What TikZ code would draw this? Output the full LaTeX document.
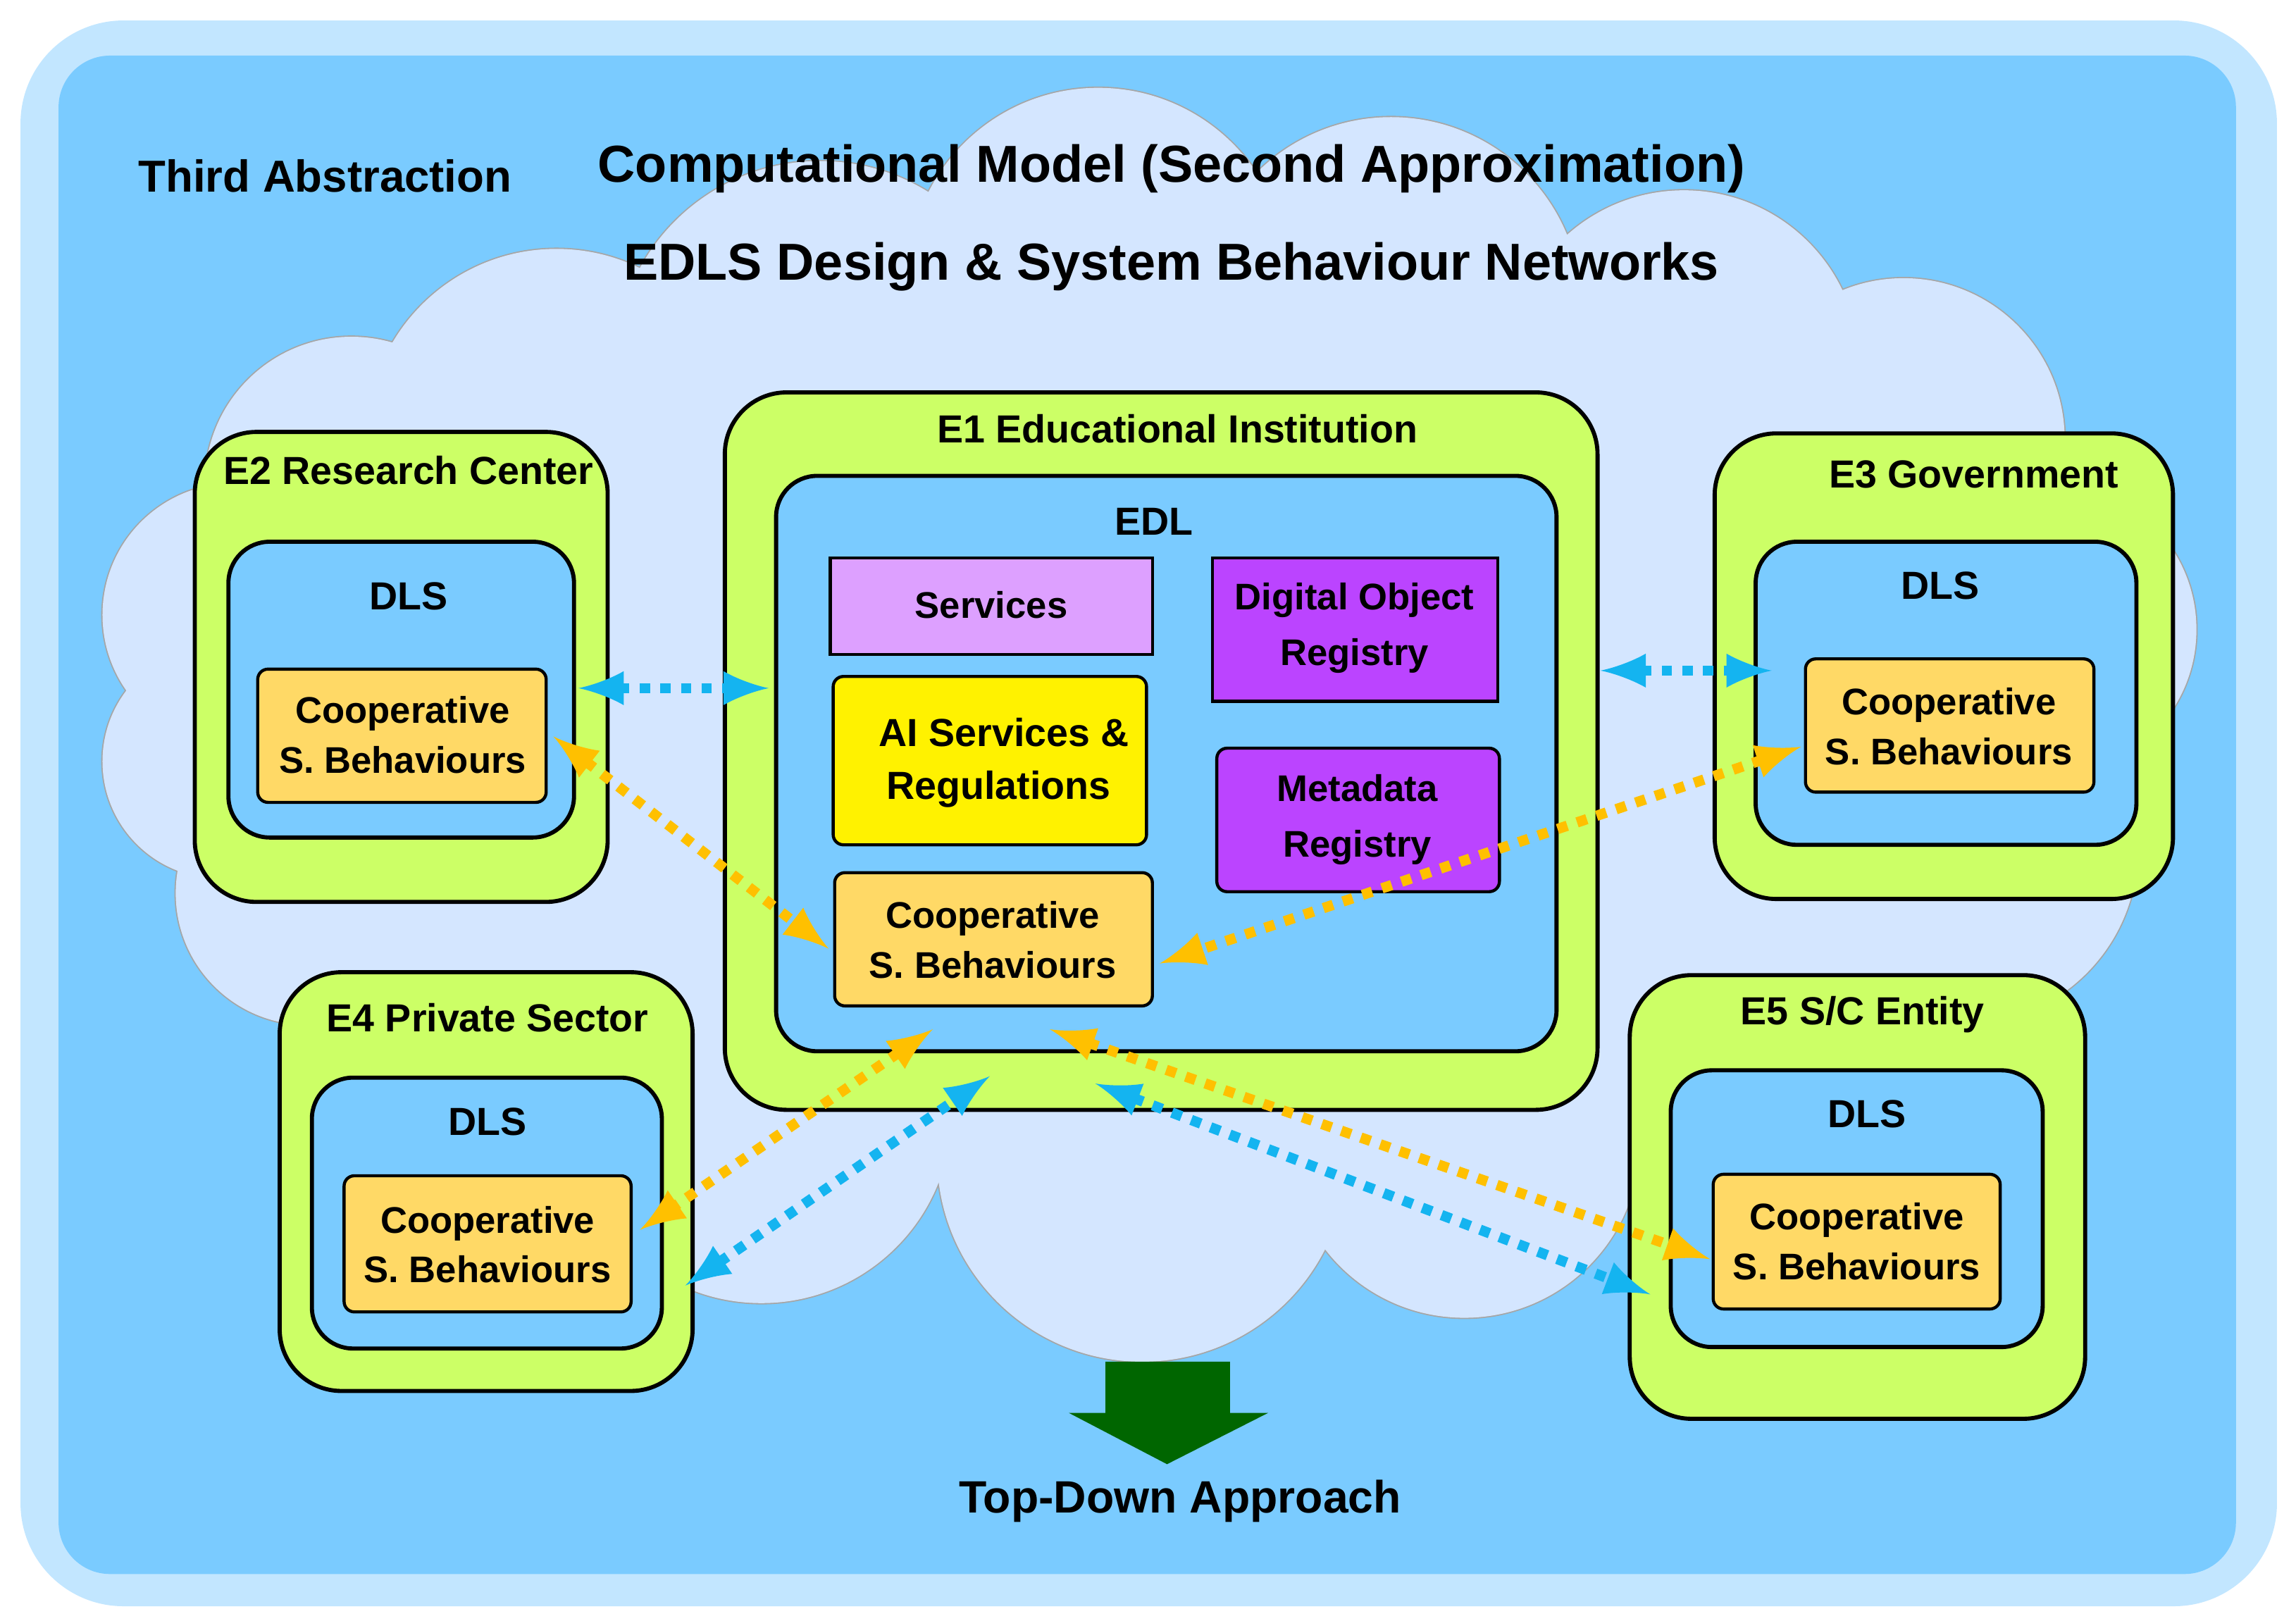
\documentclass[tikz,border=0pt]{standalone}
\usepackage{fontspec}
\setmainfont{Liberation Sans}
\begin{document}
\begin{tikzpicture}[x=0.01cm,y=-0.01cm,
 ent/.style={draw=black,line width=0.8pt,fill=limeg,rounded corners=12pt},
 blu/.style={draw=black,line width=0.8pt,fill=skyb,rounded corners=8pt},
 bx/.style={draw=black,line width=0.6pt},
 lbl/.style={font=\bfseries\fontsize{7.2}{9.7}\selectfont,align=center},
 hd/.style={font=\bfseries\fontsize{7.6}{9}\selectfont},
 tl/.style={font=\bfseries\fontsize{10.1}{11}\selectfont},
 oa/.style={<->,>=latex,dotted,line width=2pt,color=oran},
 ba/.style={<->,>=latex,dotted,line width=2pt,color=cyanb}]
\definecolor{skyb}{HTML}{7ACBFF}
\definecolor{outer}{HTML}{C2E6FF}
\definecolor{cloud}{HTML}{D4E6FF}
\definecolor{limeg}{HTML}{CCFF66}
\definecolor{oran}{HTML}{FFC000}
\definecolor{cyanb}{HTML}{14B4F0}
\definecolor{coop}{HTML}{FFD966}
\definecolor{serv}{HTML}{DDA0FF}
\definecolor{reg}{HTML}{BB44FF}
\useasboundingbox (0,0) rectangle (1568,1107);
\fill[outer,rounded corners=20pt] (14,14) rectangle (1555,1097);
\fill[skyb,rounded corners=10pt] (40,38) rectangle (1527,1075);
% cloud
\def\cloudcircs{(750,190) circle (130) (560,250) circle (140) (950,210) circle (130) (1150,250) circle (120) (380,300) circle (130) (240,330) circle (100) (160,420) circle (90) (150,520) circle (80) (210,610) circle (90) (340,700) circle (120) (520,760) circle (130) (780,790) circle (140) (1000,780) circle (120) (1200,700) circle (130) (1340,580) circle (120) (1400,430) circle (100) (1300,300) circle (110)}
\draw[gray!70,line width=0.5pt] \cloudcircs;
\fill[cloud] \cloudcircs;
\fill[cloud] (780,500) ellipse (600 and 300);
% titles
\node[font=\bfseries\fontsize{8.7}{10}\selectfont] (t0) at (222,120) {Third Abstraction};
\node[tl] (t1) at (800,115) {Computational Model (Second Approximation)};
\node[tl] (t2) at (800,182) {EDLS Design \& System Behaviour Networks};
% E1
\draw[ent] (495,268) rectangle (1091,758);
\node[hd] (e1t) at (804,293) {E1 Educational Institution};
\draw[blu] (530,325) rectangle (1063,718);
\node[hd] (edl) at (788,356) {EDL};
\draw[bx,fill=serv] (567,381) rectangle (787,447);
\node[lbl] (sv) at (677,413) {Services};
\draw[bx,fill=reg] (828,381) rectangle (1023,479);
\node[lbl,font=\bfseries\fontsize{7.2}{10.8}\selectfont] (dor) at (925,429) {Digital Object\\Registry};
\draw[bx,fill=yellow,rounded corners=2pt] (569,462) rectangle (783,577);
\node[lbl,font=\bfseries\fontsize{7.6}{10.3}\selectfont] (ai) at (682,521) {\ AI Services \&\\Regulations};
\draw[bx,fill=reg,rounded corners=2pt] (831,511) rectangle (1024,609);
\node[lbl,font=\bfseries\fontsize{7.2}{10.8}\selectfont] (mr) at (927,560) {Metadata\\Registry};
\draw[bx,fill=coop,rounded corners=2pt] (570,596) rectangle (787,687);
\node[lbl] (c1) at (678,642) {Cooperative\\S. Behaviours};
% E2
\draw[ent] (133,295) rectangle (415,616);
\node[hd] (e2t) at (279,321) {E2 Research Center};
\draw[blu] (156,370) rectangle (392,572);
\node[hd] (d2) at (279,407) {DLS};
\draw[bx,fill=coop,rounded corners=2pt] (176,457) rectangle (373,548);
\node[lbl] (c2) at (275,502) {Cooperative\\S. Behaviours};
% E3
\draw[ent] (1171,296) rectangle (1484,614);
\node[hd] (e3t) at (1348,324) {E3 Government};
\draw[blu] (1199,370) rectangle (1459,577);
\node[hd] (d3) at (1325,400) {DLS};
\draw[bx,fill=coop,rounded corners=2pt] (1233,450) rectangle (1430,541);
\node[lbl] (c3) at (1331,496) {Cooperative\\S. Behaviours};
% E4
\draw[ent] (191,664) rectangle (473,950);
\node[hd] (e4t) at (333,695) {E4 Private Sector};
\draw[blu] (213,736) rectangle (452,921);
\node[hd] (d4) at (333,766) {DLS};
\draw[bx,fill=coop,rounded corners=2pt] (235,803) rectangle (431,896);
\node[lbl] (c4) at (333,850) {Cooperative\\S. Behaviours};
% E5
\draw[ent] (1113,666) rectangle (1424,969);
\node[hd] (e5t) at (1272,693) {E5 S/C Entity};
\draw[blu] (1141,731) rectangle (1395,920);
\node[hd] (d5) at (1275,761) {DLS};
\draw[bx,fill=coop,rounded corners=2pt] (1170,802) rectangle (1366,894);
\node[lbl] (c5) at (1268,848) {Cooperative\\S. Behaviours};
% arrow end coordinates
\coordinate (a1) at (395,470); \coordinate (a2) at (525,470);
\coordinate (b1) at (1093,458); \coordinate (b2) at (1210,458);
\coordinate (p1) at (468,878); \coordinate (p2) at (676,735);
\coordinate (q1) at (748,740); \coordinate (q2) at (1127,884);
\coordinate (o1) at (378,503); \coordinate (o2) at (566,648);
\coordinate (r1) at (1230,510); \coordinate (r2) at (792,658);
\coordinate (s1) at (637,703); \coordinate (s2) at (437,840);
\coordinate (u1) at (717,703); \coordinate (u2) at (1168,860);
\draw[ba] (a1) -- (a2);
\draw[ba] (b1) -- (b2);
\draw[ba] (p1) -- (p2);
\draw[ba] (q1) -- (q2);
\draw[oa] (o1) -- (o2);
\draw[oa] (r1) -- (r2);
\draw[oa] (s1) -- (s2);
\draw[oa] (u1) -- (u2);
% top-down arrow
\fill[green!40!black] (755,930) -- (840,930) -- (840,965) -- (866,965) -- (797,1000) -- (730,965) -- (755,965) -- cycle;
\node[font=\bfseries\fontsize{8.8}{10}\selectfont] (td) at (806,1025) {Top-Down Approach};
\end{tikzpicture}
\end{document}
